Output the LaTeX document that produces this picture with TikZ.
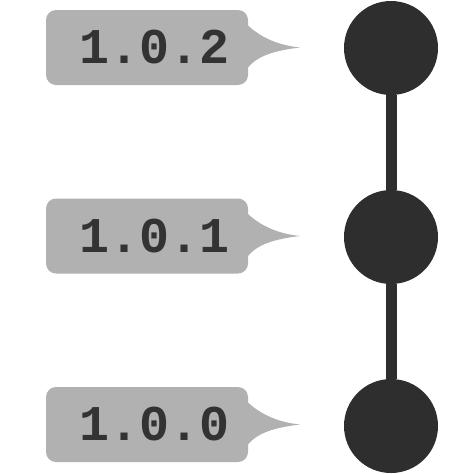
\documentclass[tikz,border=0pt]{standalone}
\usepackage{fontspec}
\setmonofont{Liberation Mono}
\definecolor{dark}{HTML}{2E2E2E}
\definecolor{bubble}{HTML}{B1B1B1}
\definecolor{txt}{HTML}{333333}
\begin{document}
\begin{tikzpicture}[x=1pt,y=-1pt,
  commit/.style={circle,fill=dark,minimum size=94pt,inner sep=0pt},
  lbl/.style={text=txt,font=\ttfamily\bfseries\fontsize{50}{55}\selectfont,inner sep=0pt},
  bub/.style={fill=bubble}]
\useasboundingbox (0,0) rectangle (474,474);
\node[commit] (c2) at (391,48) {};
\node[commit] (c1) at (391,237) {};
\node[commit] (c0) at (391,426) {};
\draw[dark,line width=11pt] (c2.south) -- (c1.north);
\draw[dark,line width=11pt] (c1.south) -- (c0.north);
\foreach \c/\t/\n in {47.5/1.0.2/v2,236/1.0.1/v1,424.5/1.0.0/v0}{
  \coordinate (\n tip) at (300,\c);
  \fill[bub] (56,\c-37.5) -- (238,\c-37.5) to[out=0,in=90] (248,\c-27.5) -- (248,\c-22)
    .. controls (262,\c-9) and (280,\c-2) .. (\n tip)
    .. controls (275,\c+3) and (258,\c+8) .. (248,\c+20)
    -- (248,\c+27.5) to[out=-90,in=0] (238,\c+37.5) -- (56,\c+37.5)
    to[out=180,in=-90] (46,\c+27.5) -- (46,\c-27.5) to[out=90,in=180] cycle;
  \node[lbl] (\n) at (155,\c) {\t};
}
\end{tikzpicture}
\end{document}
